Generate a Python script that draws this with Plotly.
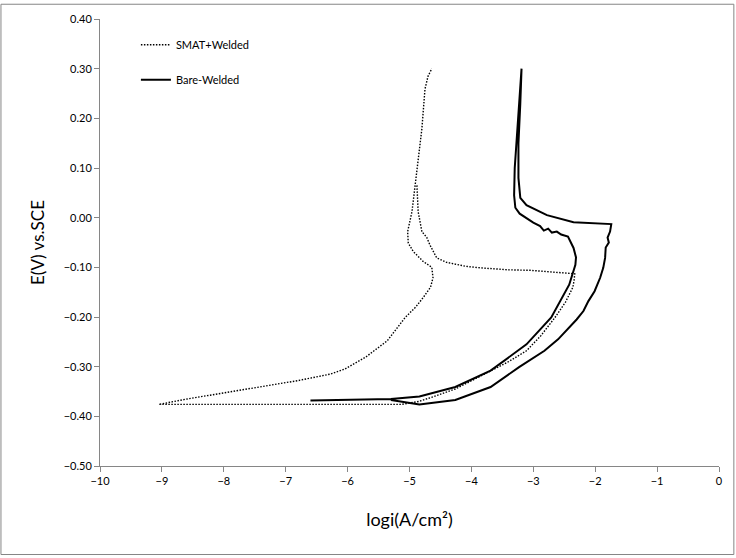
import plotly.graph_objects as go

# SMAT+Welded (dotted) - traced as one continuous scan path
smat_x = [-4.88, -4.86, -4.80, -4.72, -4.67, -4.56, -4.40, -4.09, -3.86, -3.40, -3.05, -2.60, -2.33,
          -2.34, -2.36, -2.48, -2.65, -2.88, -3.11, -3.40, -3.69, -4.00, -4.26, -4.60, -4.85, -5.13,
          -6.50, -8.00, -9.05,
          -8.59, -8.00, -7.44, -6.80, -6.28, -6.05, -5.71, -5.36, -5.07, -4.90, -4.78, -4.66, -4.62,
          -4.64, -4.78, -4.94, -5.02, -5.03, -4.96, -4.91, -4.86, -4.80, -4.75, -4.70, -4.64]
smat_y = [0.065, 0.012, -0.028, -0.040, -0.055, -0.081, -0.090, -0.098, -0.101, -0.105, -0.106, -0.110, -0.113,
          -0.125, -0.140, -0.170, -0.201, -0.238, -0.268, -0.290, -0.308, -0.328, -0.345, -0.360, -0.370, -0.376,
          -0.376, -0.376, -0.376,
          -0.365, -0.353, -0.341, -0.328, -0.315, -0.305, -0.281, -0.248, -0.201, -0.180, -0.161, -0.140, -0.121,
          -0.100, -0.088, -0.068, -0.051, -0.028, 0.012, 0.065, 0.112, 0.179, 0.259, 0.285, 0.300]

# Bare-Welded (solid)
bare_x = [-6.60, -5.30, -4.84, -4.26, -3.69, -3.11, -2.71, -2.42, -2.32, -2.31, -2.35, -2.44, -2.55,
          -2.62, -2.70, -2.76, -2.83, -2.89, -3.00, -3.11, -3.22, -3.29, -3.31, -3.30, -3.27, -3.23, -3.19,
          -3.21, -3.24, -3.24, -3.21, -3.11, -2.78, -2.35, -2.00, -1.74,
          -1.76, -1.80, -1.78, -1.83, -1.84, -1.87, -1.92, -2.01, -2.11, -2.19, -2.30, -2.42, -2.60,
          -2.82, -3.23, -3.69, -4.26, -4.84, -5.30]
bare_y = [-0.368, -0.365, -0.360, -0.341, -0.308, -0.255, -0.201, -0.135, -0.095, -0.080, -0.061, -0.038, -0.034,
          -0.028, -0.030, -0.022, -0.026, -0.017, -0.010, -0.001, 0.008, 0.020, 0.045, 0.100, 0.160, 0.230, 0.300,
          0.230, 0.150, 0.080, 0.040, 0.025, 0.005, -0.009, -0.011, -0.013,
          -0.028, -0.040, -0.050, -0.060, -0.081, -0.101, -0.121, -0.148, -0.168, -0.188, -0.205, -0.221, -0.245,
          -0.268, -0.301, -0.341, -0.367, -0.376, -0.367]

x_ticks = list(range(-10, 1))
y_ticks = [0.40, 0.30, 0.20, 0.10, 0.00, -0.10, -0.20, -0.30, -0.40, -0.50]

fig = go.Figure()
fig.add_trace(go.Scatter(x=smat_x, y=smat_y, mode="lines", name="SMAT+Welded",
                         legendgroup="a", line=dict(color="black", width=1.4, dash="1.5px,1.5px")))
fig.add_trace(go.Scatter(x=bare_x, y=bare_y, mode="lines", name="Bare-Welded",
                         legendgroup="b", line=dict(color="black", width=2)))

axis_font = dict(family="Lato, sans-serif", size=11, color="black")
fig.update_xaxes(range=[-10, 0], tickvals=x_ticks, ticks="outside", ticklen=5,
                 tickcolor="#868686", showline=True, linecolor="#868686", linewidth=1,
                 showgrid=False, zeroline=False, tickfont=axis_font,
                 title=dict(text="logi(A/cm²)", font=dict(family="Lato, sans-serif", size=18, color="black"),
                            standoff=27))
fig.update_yaxes(range=[-0.5, 0.4], tickvals=y_ticks, tickformat=".2f", ticks="outside", ticklen=5,
                 tickcolor="#868686", showline=True, linecolor="#868686", linewidth=1,
                 showgrid=False, zeroline=False, tickfont=axis_font,
                 title=dict(text="E(V) vs.SCE", font=dict(family="Lato, sans-serif", size=17, color="black"),
                            standoff=14))

fig.update_layout(
    width=736, height=558,
    margin=dict(l=100, r=17, t=16, b=92),
    paper_bgcolor="white", plot_bgcolor="white",
    showlegend=True,
    legend=dict(x=0.058, y=0.975, xanchor="left", yanchor="top", bgcolor="rgba(0,0,0,0)",
                font=dict(family="Lato, sans-serif", size=11, color="black"),
                traceorder="grouped", tracegroupgap=16, itemwidth=30),
    shapes=[dict(type="rect", xref="paper", yref="paper",
                 x0=-0.16, x1=1.024, y0=-0.198, y1=1.033,
                 line=dict(color="#868686", width=1))],
)

# page body has a default 8px margin; drop it so the figure sits at the window corner
fig.write_html("out.html", config={"displayModeBar": False},
               post_script="document.body.style.margin='0';")
